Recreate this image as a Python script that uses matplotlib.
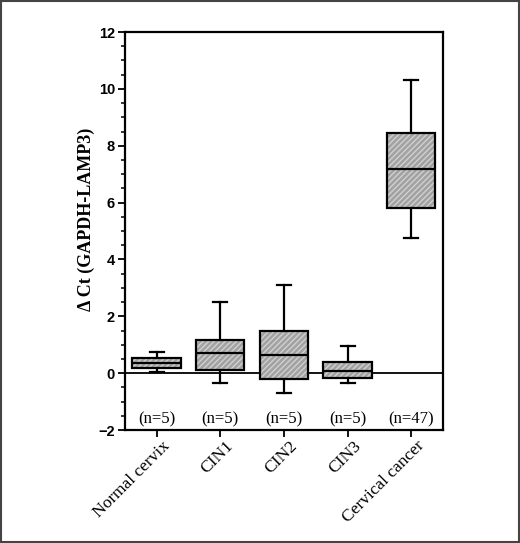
import matplotlib
matplotlib.use("Agg")
import matplotlib.pyplot as plt
import matplotlib.transforms as mtransforms
from matplotlib.patches import Rectangle
from matplotlib.ticker import MultipleLocator

# groups and box statistics
groups = ["Normal cervix", "CIN1", "CIN2", "CIN3", "Cervical cancer"]
n_labels = ["(n=5)", "(n=5)", "(n=5)", "(n=5)", "(n=47)"]
whisker_low = [0.05, -0.36, -0.69, -0.33, 4.76]
q1 = [0.20, 0.13, -0.20, -0.17, 5.80]
median = [0.37, 0.71, 0.64, 0.08, 7.20]
q3 = [0.52, 1.16, 1.50, 0.38, 8.45]
whisker_high = [0.75, 2.49, 3.10, 0.95, 10.30]

stats = [
    {"label": g, "whislo": lo, "q1": a, "med": m, "q3": b, "whishi": hi, "fliers": []}
    for g, lo, a, m, b, hi in zip(groups, whisker_low, q1, median, q3, whisker_high)
]
positions = list(range(1, len(groups) + 1))

fig = plt.figure(figsize=(5.2, 5.43), dpi=100)
ax = fig.add_axes([0.240, 0.208, 0.612, 0.733])

# hatched grey fill first
ax.bxp(stats, positions=positions, widths=0.76, patch_artist=True,
       showcaps=False, boxprops=dict(facecolor="#a2a2a2", edgecolor="#d0d0d0",
                                     linewidth=0, hatch="//////"),
       whiskerprops=dict(linewidth=0), medianprops=dict(linewidth=0))
# black outlines, whiskers and caps on top
ax.bxp(stats, positions=positions, widths=0.76, patch_artist=True, capwidths=0.22,
       boxprops=dict(facecolor="none", edgecolor="black", linewidth=1.6),
       whiskerprops=dict(color="black", linewidth=1.6),
       capprops=dict(color="black", linewidth=1.6),
       medianprops=dict(color="black", linewidth=1.6))

ax.axhline(0, color="black", linewidth=1.3, zorder=1)

for p, t in zip(positions, n_labels):
    ax.text(p, -1.62, t, ha="center", va="center", fontsize=12,
            family="Liberation Serif")

ax.set_xlim(0.5, 5.5)
ax.set_ylim(-2, 12)
ax.yaxis.set_major_locator(MultipleLocator(2))
ax.yaxis.set_minor_locator(MultipleLocator(0.5))
ax.tick_params(axis="y", which="major", direction="out", length=5, width=1.3,
               labelsize=10.5, pad=2)
ax.tick_params(axis="y", which="minor", direction="out", length=3, width=1.1)
ax.tick_params(axis="x", direction="out", length=5, width=1.3)
for lab in ax.get_yticklabels():
    lab.set_fontweight("bold")
    lab.set_family("Liberation Sans")

ax.set_xticks(positions)
ax.set_xticklabels(groups, rotation=45, ha="right", va="center",
                   rotation_mode="anchor", fontsize=12.5, family="Liberation Serif")
shift = mtransforms.ScaledTranslation(11 / 100, -2 / 100, fig.dpi_scale_trans)
for lab in ax.get_xticklabels():
    lab.set_transform(lab.get_transform() + shift)

for s in ax.spines.values():
    s.set_linewidth(1.6)

ax.set_ylabel("\u0394 Ct (GAPDH-LAMP3)", fontsize=13, fontweight="bold",
              family="Liberation Serif")
ax.yaxis.set_label_coords(-0.094, 0.53)

# thin frame around the whole picture
fig.patches.append(Rectangle((0.002, 0.002), 0.996, 0.996, transform=fig.transFigure,
                             fill=False, edgecolor="#444444", linewidth=1.5))

fig.savefig("out.png", dpi=100)
